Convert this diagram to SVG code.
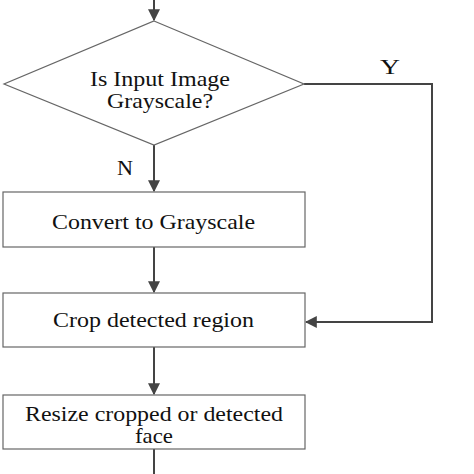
<svg xmlns="http://www.w3.org/2000/svg" width="474" height="474" viewBox="0 0 474 474">
<style>
.n{fill:#fff;stroke:#666;stroke-width:1.2}
.t{font-family:"Liberation Serif",serif;font-size:21px;fill:#111;text-anchor:middle}
.c{fill:none;stroke:#444;stroke-width:2}
</style>
<defs>
<marker id="a" viewBox="0 0 10 10" refX="9" refY="5" markerWidth="12" markerHeight="12" orient="auto" markerUnits="userSpaceOnUse">
<path d="M0,0L10,5L0,10z" fill="#444"/>
</marker>
</defs>
<rect width="474" height="474" fill="#fff"/>
<g id="connectors">
<path class="c" d="M154,0V20" marker-end="url(#a)"/>
<path class="c" d="M154,145V191" marker-end="url(#a)"/>
<path class="c" d="M154,247V292" marker-end="url(#a)"/>
<path class="c" d="M154,347V394" marker-end="url(#a)"/>
<path class="c" d="M154,449V474"/>
<path class="c" d="M304,84H432V322H306" marker-end="url(#a)"/>
<text class="t" x="390" y="74" textLength="20" lengthAdjust="spacingAndGlyphs">Y</text>
<text class="t" x="125" y="175" textLength="16" lengthAdjust="spacingAndGlyphs">N</text>
</g>
<g id="decision">
<polygon class="n" points="154,21 304,84 154,145 4,84"/>
<text class="t" x="160" y="86" textLength="140" lengthAdjust="spacingAndGlyphs">Is Input Image</text>
<text class="t" x="160" y="108" textLength="106" lengthAdjust="spacingAndGlyphs">Grayscale?</text>
</g>
<g id="convert">
<rect class="n" x="3" y="192" width="302" height="55"/>
<text class="t" x="153.5" y="229" textLength="203" lengthAdjust="spacingAndGlyphs">Convert to Grayscale</text>
</g>
<g id="crop">
<rect class="n" x="3" y="293" width="302" height="54"/>
<text class="t" x="153.5" y="327" textLength="201" lengthAdjust="spacingAndGlyphs">Crop detected region</text>
</g>
<g id="resize">
<rect class="n" x="3" y="395" width="302" height="54"/>
<text class="t" x="154" y="421" textLength="258" lengthAdjust="spacingAndGlyphs">Resize cropped or detected</text>
<text class="t" x="154" y="443" textLength="38" lengthAdjust="spacingAndGlyphs">face</text>
</g>
</svg>
